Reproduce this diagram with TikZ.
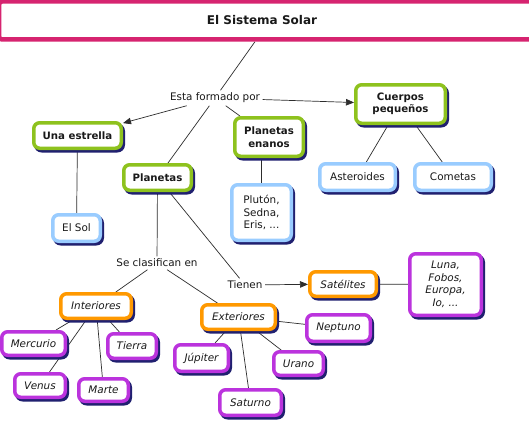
\documentclass[tikz,border=0pt]{standalone}
\usepackage{fontspec}
\setmainfont{DejaVu Sans}
\usetikzlibrary{arrows.meta,shadows}
\pgfdeclarelayer{bg}
\pgfsetlayers{bg,main}
\definecolor{pinkc}{RGB}{214,36,112}
\definecolor{greenc}{RGB}{142,194,30}
\definecolor{bluec}{RGB}{153,204,255}
\definecolor{orangec}{RGB}{255,153,0}
\definecolor{purplec}{RGB}{187,51,221}
\definecolor{shd}{RGB}{32,32,112}
\definecolor{linec}{RGB}{45,45,45}
\definecolor{txt}{RGB}{25,25,25}
\begin{document}
\begin{tikzpicture}[x=1pt,y=-1pt,
  box/.style={rounded corners=6pt, line width=3.5pt, fill=white, inner sep=0pt,
    align=center, text=txt, font=\fontsize{10.4}{12.5}\selectfont,
    drop shadow={shadow xshift=2pt, shadow yshift=-2.5pt, fill=shd, draw=shd,
      line width=3.5pt, opacity=1}},
  sz/.style 2 args={minimum width=#1pt-3.5pt, minimum height=#2pt-3.5pt},
  gbox/.style={box, draw=greenc, font=\bfseries\fontsize{10.2}{12.5}\selectfont},
  bbox/.style={box, draw=bluec},
  obox/.style={box, draw=orangec, font=\itshape\fontsize{10.4}{12.5}\selectfont},
  pbox/.style={box, draw=purplec, font=\itshape\fontsize{10.4}{12.5}\selectfont},
  lbl/.style={inner sep=2.5pt, text=txt, font=\fontsize{10.4}{12.5}\selectfont},
  ln/.style={draw=linec, line width=0.7pt},
  arr/.style={ln, -{Triangle[length=8pt,width=6.5pt]}}]
\useasboundingbox (0,0) rectangle (529,420);
\begin{pgfonlayer}{bg}
\fill[white] (0,0) rectangle (529,420);
\end{pgfonlayer}

% title
\node[draw=pinkc, line width=4.5pt, fill=white, rounded corners=3pt,
  minimum width=542pt, minimum height=38pt, text=txt,
  font=\bfseries\fontsize{12}{14}\selectfont] (title) at (270,20.5) {\hspace*{-16pt}El Sistema Solar};

% linking phrases
\node[lbl] (formado) at (215,98) {Esta formado por};
\node[lbl] (clasif) at (157,263) {Se clasifican en};
\node[lbl] (tienen) at (245,285) {Tienen};

% concepts
\node[gbox, sz={91}{29}] (estrella) at (77.5,135.5) {Una estrella};
\node[gbox, sz={72}{42}] (enanos) at (269,137) {Planetas\\enanos};
\node[gbox, sz={93}{42}] (cuerpos) at (400.5,104) {Cuerpos\\peque\~nos};
\node[gbox, sz={71}{29}] (planetas) at (157.5,177.5) {Planetas};

\node[bbox, sz={51}{30}] (sol) at (76.5,228) {El Sol};
\node[bbox, sz={63}{59}] (pluton) at (261.5,212.5) {Plut\'on,\\Sedna,\\Eris, ...};
\node[bbox, sz={79}{30}] (asteroides) at (357.5,177) {Asteroides};
\node[bbox, sz={80}{30}] (cometas) at (453,177) {Cometas};

\node[obox, sz={70}{28}] (satelites) at (343,284) {Sat\'elites};
\node[obox, sz={74}{28}] (interiores) at (96,306) {Interiores};
\node[obox, sz={77}{28}] (exteriores) at (238.5,317) {Exteriores};

\node[pbox, sz={75}{65}] (luna) at (445.5,284.5) {Luna,\\Fobos,\\Europa,\\Io, ...};
\node[pbox, sz={67}{27}] (mercurio) at (33.5,343.5) {Mercurio};
\node[pbox, sz={52}{28}] (tierra) at (132,346) {Tierra};
\node[pbox, sz={54}{27}] (venus) at (40,385.5) {Venus};
\node[pbox, sz={53}{26}] (marte) at (103.5,390) {Marte};
\node[pbox, sz={57}{30}] (jupiter) at (201.5,358) {J\'upiter};
\node[pbox, sz={65}{29}] (saturno) at (250.5,402.5) {Saturno};
\node[pbox, sz={53}{27}] (urano) at (298.5,363.5) {Urano};
\node[pbox, sz={67}{30}] (neptuno) at (338.5,328) {Neptuno};

% connectors
\begin{pgfonlayer}{bg}
\draw[ln] (title) -- (formado);
\draw[arr] (formado) -- (estrella);
\draw[arr] (formado) -- (cuerpos);
\draw[ln] (formado) -- (planetas);
\draw[ln] (formado) -- (enanos);
\draw[ln] (estrella) -- (sol);
\draw[ln] (pluton.north) -- (pluton.north |- enanos.south);
\draw[ln] (cuerpos) -- (asteroides);
\draw[ln] (cuerpos) -- (cometas);
\draw[ln] (planetas) -- (clasif);
\draw[ln] (planetas) -- (tienen);
\draw[arr] (tienen) -- (satelites);
\draw[ln] (satelites) -- (luna);
\draw[ln] (clasif) -- (interiores);
\draw[ln] (clasif) -- (exteriores);
\draw[ln] (interiores) -- (mercurio);
\draw[ln] (interiores) -- (venus);
\draw[ln] (interiores) -- (marte);
\draw[ln] (interiores) -- (tierra);
\draw[ln] (exteriores) -- (jupiter);
\draw[ln] (exteriores) -- (saturno);
\draw[ln] (exteriores) -- (urano);
\draw[ln] (exteriores) -- (neptuno);
\end{pgfonlayer}
\end{tikzpicture}
\end{document}
